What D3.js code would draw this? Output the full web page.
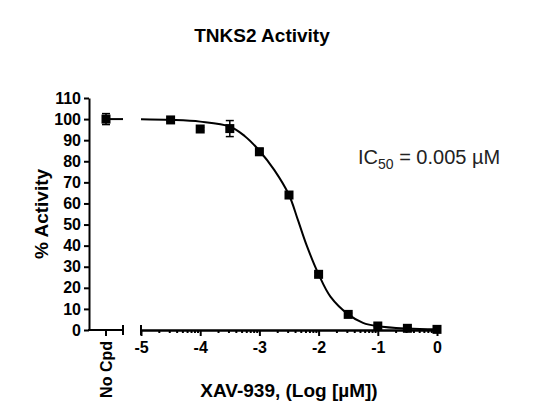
<!DOCTYPE html>
<html>
<head>
<meta charset="utf-8">
<script src="https://cdn.jsdelivr.net/npm/d3@7"></script>
<style>
  body { margin: 0; background: #fff; }
  text { font-family: "Liberation Sans", Arial, sans-serif; }
  .axis path, .axis line { stroke: #000; stroke-width: 2; }
  .axis text { font-size: 16px; font-weight: bold; fill: #000; }
</style>
</head>
<body>
<div id="chart"></div>
<script>
// Measured points: log concentration (uM) vs % activity
const logConc = [-4.5, -4, -3.5, -3, -2.5, -2, -1.5, -1, -0.5, 0];
const activity = [99.6, 95.3, 95.5, 84.5, 64.0, 26.4, 7.4, 1.9, 0.8, 0.3];
const activityErr = [0.6, 0.8, 3.8, 1.6, 1.0, 1.0, 0.6, 0.5, 0.4, 0.3];

// No compound control
const noCpdValue = 100;
const noCpdErr = 2.6;

// Fitted curve
const curveX = [-5, -4.5, -4, -3.5, -3.25, -3, -2.75, -2.5, -2.35, -2.2, -2, -1.8, -1.5, -1.25, -1, -0.5, 0];
const curveY = [99.9, 99.6, 98.8, 96.5, 92.0, 85.0, 75.9, 64.0, 52.2, 40.0, 26.4, 15.8, 7.4, 3.4, 1.8, 0.7, 0.3];

const xTicks = [-5, -4, -3, -2, -1, 0];
const yTicks = [0, 10, 20, 30, 40, 50, 60, 70, 80, 90, 100, 110];

const svgWidth = 545;
const svgHeight = 411;

const svg = d3.select("#chart")
  .append("svg")
  .attr("width", svgWidth)
  .attr("height", svgHeight);

// scales
const xScale = d3.scaleLinear().domain([-5, 0]).range([141, 437]);
const yScale = d3.scaleLinear().domain([0, 110]).range([330, 98]);

// the "No Cpd" part of the broken x axis
const breakLeft = 89, breakRight = 123, noCpdX = 106;

// title
svg.append("text")
  .attr("x", 262)
  .attr("y", 42)
  .attr("text-anchor", "middle")
  .style("font-size", "19px")
  .style("font-weight", "bold")
  .text("TNKS2 Activity");

// y axis
svg.append("g")
  .attr("class", "axis")
  .attr("transform", `translate(${breakLeft},0)`)
  .call(d3.axisLeft(yScale).tickValues(yTicks).tickSize(5).tickPadding(3).tickSizeOuter(0));

// left x segment (No Cpd)
const noCpdAxis = svg.append("g").attr("class", "axis");
noCpdAxis.append("line")
  .attr("x1", breakLeft - 1).attr("x2", breakRight)
  .attr("y1", yScale(0)).attr("y2", yScale(0));
noCpdAxis.append("line")
  .attr("x1", noCpdX).attr("x2", noCpdX)
  .attr("y1", yScale(0)).attr("y2", yScale(0) + 6);
noCpdAxis.append("line")
  .attr("x1", breakRight).attr("x2", breakRight)
  .attr("y1", yScale(0) - 5).attr("y2", yScale(0) + 5);
noCpdAxis.append("text")
  .attr("transform", `translate(${noCpdX + 6},${yScale(0) + 11}) rotate(-90)`)
  .attr("text-anchor", "end")
  .text("No Cpd");

// main x axis, minor log ticks
const minorTicks = [];
for (let d = -5; d < 0; d++) {
  for (let k = 2; k <= 9; k++) minorTicks.push(d + Math.log10(k));
}
svg.append("g")
  .attr("class", "axis")
  .attr("transform", `translate(0,${yScale(0)})`)
  .call(d3.axisBottom(xScale).tickValues(minorTicks).tickSize(3).tickSizeOuter(0).tickFormat(""));

svg.append("g")
  .attr("class", "axis")
  .attr("transform", `translate(0,${yScale(0)})`)
  .call(d3.axisBottom(xScale).tickValues(xTicks).tickSize(6).tickPadding(6).tickSizeOuter(0)
    .tickFormat(d => String(d)));

// break marker at the start of the main axis
svg.append("line")
  .attr("x1", xScale(-5)).attr("x2", xScale(-5))
  .attr("y1", yScale(0) - 5).attr("y2", yScale(0) + 5)
  .attr("stroke", "#000").attr("stroke-width", 2);

// axis labels
svg.append("text")
  .attr("transform", `translate(48,${(yScale(0) + yScale(110)) / 2}) rotate(-90)`)
  .attr("text-anchor", "middle")
  .style("font-size", "19px")
  .style("font-weight", "bold")
  .text("% Activity");

svg.append("text")
  .attr("x", 289)
  .attr("y", 397)
  .attr("text-anchor", "middle")
  .style("font-size", "19px")
  .style("font-weight", "bold")
  .text("XAV-939, (Log [\u00B5M])");

// fitted curve
const line = d3.line()
  .x(d => xScale(d[0]))
  .y(d => yScale(d[1]))
  .curve(d3.curveCatmullRom.alpha(0.5));

svg.append("path")
  .datum(d3.zip(curveX, curveY))
  .attr("d", line)
  .attr("fill", "none")
  .attr("stroke", "#000")
  .attr("stroke-width", 2);

// No Cpd line at top
svg.append("line")
  .attr("x1", noCpdX).attr("x2", breakRight)
  .attr("y1", yScale(noCpdValue)).attr("y2", yScale(noCpdValue))
  .attr("stroke", "#000").attr("stroke-width", 2);

// error bars
const points = logConc.map((x, i) => ({ x: xScale(x), v: activity[i], e: activityErr[i] }));
points.push({ x: noCpdX, v: noCpdValue, e: noCpdErr });

const errG = svg.append("g").attr("stroke", "#000").attr("stroke-width", 1.5);
points.forEach(p => {
  const y1 = yScale(p.v - p.e), y2 = yScale(p.v + p.e);
  errG.append("line").attr("x1", p.x).attr("x2", p.x).attr("y1", y1).attr("y2", y2);
  errG.append("line").attr("x1", p.x - 4).attr("x2", p.x + 4).attr("y1", y1).attr("y2", y1);
  errG.append("line").attr("x1", p.x - 4).attr("x2", p.x + 4).attr("y1", y2).attr("y2", y2);
});

// squares
svg.append("g")
  .selectAll("rect")
  .data(points)
  .enter()
  .append("rect")
  .attr("x", d => d.x - 4.5)
  .attr("y", d => yScale(d.v) - 4.5)
  .attr("width", 9)
  .attr("height", 9)
  .attr("fill", "#000");

// IC50 note
const ic = svg.append("text")
  .attr("x", 358)
  .attr("y", 164)
  .style("font-size", "20px")
  .style("fill", "#222");
ic.append("tspan").text("IC");
ic.append("tspan").attr("dy", 5).style("font-size", "14px").text("50");
ic.append("tspan").attr("dy", -5).text(" = 0.005 \u00B5M");
</script>
</body>
</html>
